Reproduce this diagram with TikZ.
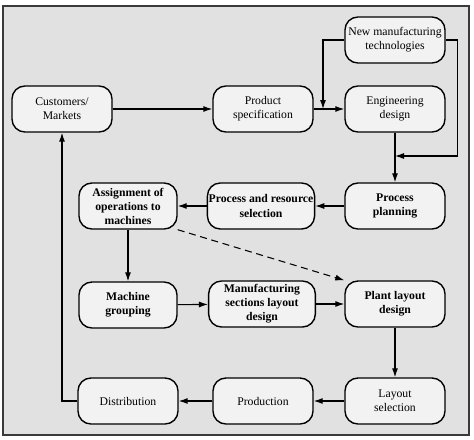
\documentclass[tikz,border=0pt]{standalone}
\usepackage{fontspec}
\setmainfont{Liberation Serif}
\usepackage{xcolor}
\usetikzlibrary{arrows.meta, positioning}

\definecolor{panel}{HTML}{E1E1E1}
\definecolor{boxfill}{HTML}{F2F2F2}
\definecolor{framec}{HTML}{3A3A3A}

\begin{document}
\begin{tikzpicture}[
  x=0.03cm, y=-0.03cm,
  box/.style={draw, fill=boxfill, rounded corners=11pt, align=center,
              minimum width=3cm, minimum height=1.38cm, font=\normalsize,
              inner sep=1pt, line width=1.2pt},
  bbox/.style={box, font=\normalsize\bfseries},
  every path/.append style={line width=0.9pt},
  >={Latex[length=2.7mm, width=1.8mm]}
]
\useasboundingbox (0,0) rectangle (474,439);
\draw[framec, line width=1.8pt, fill=panel] (3,6) rectangle (469,435);

\node[box]  (cust)  at (62,  109) {Customers/\\Markets};
\node[box]  (spec)  at (263, 109) {Product\\specification};
\node[box]  (eng)   at (395, 109) {Engineering\\design};
\node[box]  (newt)  at (395,  40) {New manufacturing\\technologies};
\node[bbox] (plan)  at (395, 206) {Process\\planning};
\node[bbox, minimum width=3.18cm] (sel) at (261, 206) {Process and resource\\selection};
\node[bbox, minimum width=2.94cm] (asg) at (128, 206) {Assignment of\\operations to\\machines};
\node[bbox, minimum width=2.94cm] (grp) at (128, 305) {Machine\\grouping};
\node[bbox, minimum width=3.2cm] (msl) at (262, 304) {Manufacturing\\sections layout\\design};
\node[bbox] (pld)   at (395, 304) {Plant layout\\design};
\node[box]  (lsel)  at (395, 401) {Layout\\selection};
\node[box]  (prod)  at (263, 401) {Production};
\node[box]  (dist)  at (128, 401) {Distribution};

\coordinate (m1) at (323, 109);
\coordinate (m2) at (395, 156);

\draw[->] (cust) -- (spec);
\draw[->] (spec) -- (eng);
\draw[->] (newt.west) -| (m1);
\draw[->] (newt.east) -- ++(12,0) |- (m2);
\draw[->] (eng)  -- (plan);
\draw[->] (plan) -- (sel);
\draw[->] (sel)  -- (asg);
\draw[->] (asg)  -- (grp);
\draw[->, dash pattern=on 6pt off 4pt] (asg.south east) -- (pld.north west);
\draw[->] (grp)  -- (msl);
\draw[->] (msl)  -- (pld);
\draw[->] (pld)  -- (lsel);
\draw[->] (lsel) -- (prod);
\draw[->] (prod) -- (dist);
\draw[->] (dist.west) -| (cust.south);
\end{tikzpicture}
\end{document}
